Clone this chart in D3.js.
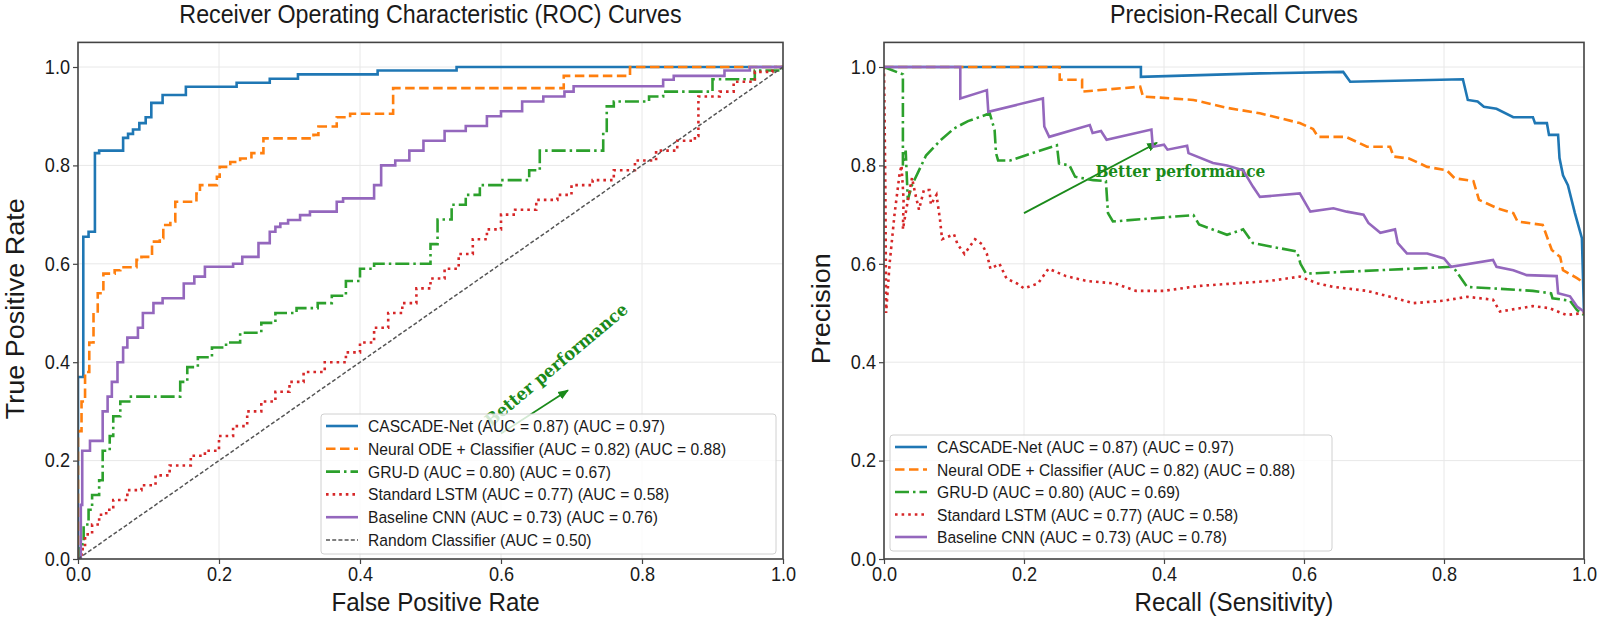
<!DOCTYPE html>
<html>
<head>
<meta charset="utf-8">
<script src="https://cdn.jsdelivr.net/npm/d3@7/dist/d3.min.js"></script>
<style>
body { margin: 0; background: #fff; }
text { font-family: "Liberation Sans", Arial, sans-serif; fill: #1a1a1a; }
</style>
</head>
<body>
<script>
var width = 1600,
    height = 619

// ---- data ----
var ticks = [0, 0.2, 0.4, 0.6, 0.8, 1.0]

var rocLabels = [
  "CASCADE-Net (AUC = 0.87) (AUC = 0.97)",
  "Neural ODE + Classifier (AUC = 0.82) (AUC = 0.88)",
  "GRU-D (AUC = 0.80) (AUC = 0.67)",
  "Standard LSTM (AUC = 0.77) (AUC = 0.58)",
  "Baseline CNN (AUC = 0.73) (AUC = 0.76)",
  "Random Classifier (AUC = 0.50)"
]
var prLabels = [
  "CASCADE-Net (AUC = 0.87) (AUC = 0.97)",
  "Neural ODE + Classifier (AUC = 0.82) (AUC = 0.88)",
  "GRU-D (AUC = 0.80) (AUC = 0.69)",
  "Standard LSTM (AUC = 0.77) (AUC = 0.58)",
  "Baseline CNN (AUC = 0.73) (AUC = 0.78)"
]

// ROC: [fpr, tpr after the step]
var rocCascade = [[0,0],[0,0.37],[0.0075,0.655],[0.015,0.665],[0.024,0.825],[0.03,0.83],[0.064,0.856],[0.071,0.864],[0.078,0.873],[0.087,0.886],[0.096,0.898],[0.104,0.927],[0.12,0.943],[0.153,0.96],[0.225,0.968],[0.272,0.976],[0.312,0.985],[0.425,0.993],[0.537,1.0],[1,1]]
var rocNeuralOde = [[0,0],[0,0.26],[0.005,0.32],[0.01,0.38],[0.016,0.44],[0.022,0.50],[0.028,0.54],[0.036,0.58],[0.052,0.587],[0.06,0.593],[0.083,0.608],[0.09,0.614],[0.105,0.645],[0.116,0.652],[0.121,0.679],[0.131,0.686],[0.138,0.726],[0.168,0.743],[0.173,0.76],[0.197,0.777],[0.201,0.797],[0.216,0.807],[0.23,0.814],[0.246,0.825],[0.263,0.855],[0.334,0.862],[0.341,0.879],[0.367,0.898],[0.386,0.905],[0.447,0.957],[0.689,0.982],[0.783,1.0],[1,1]]
var rocGruD = [[0,0],[0.003,0.03],[0.008,0.07],[0.015,0.10],[0.02,0.13],[0.03,0.16],[0.035,0.22],[0.045,0.25],[0.05,0.29],[0.06,0.32],[0.075,0.33],[0.145,0.36],[0.155,0.39],[0.17,0.41],[0.19,0.43],[0.21,0.44],[0.23,0.46],[0.26,0.48],[0.28,0.50],[0.31,0.51],[0.34,0.52],[0.36,0.535],[0.38,0.565],[0.40,0.59],[0.42,0.60],[0.50,0.64],[0.51,0.69],[0.53,0.72],[0.55,0.74],[0.57,0.76],[0.60,0.77],[0.64,0.79],[0.655,0.83],[0.745,0.87],[0.75,0.92],[0.76,0.93],[0.81,0.94],[0.83,0.95],[0.90,0.975],[0.96,0.993],[1,1]]
var rocLstm = [[0,0],[0.005,0.02],[0.01,0.05],[0.02,0.07],[0.03,0.09],[0.04,0.10],[0.05,0.12],[0.07,0.14],[0.09,0.15],[0.11,0.17],[0.13,0.19],[0.16,0.21],[0.18,0.22],[0.2,0.25],[0.22,0.27],[0.24,0.30],[0.26,0.32],[0.28,0.34],[0.30,0.36],[0.32,0.38],[0.35,0.40],[0.38,0.42],[0.40,0.44],[0.42,0.47],[0.44,0.50],[0.46,0.52],[0.48,0.55],[0.50,0.57],[0.52,0.59],[0.54,0.62],[0.56,0.65],[0.58,0.67],[0.60,0.70],[0.62,0.71],[0.65,0.73],[0.68,0.74],[0.70,0.76],[0.73,0.77],[0.76,0.79],[0.79,0.81],[0.82,0.83],[0.85,0.85],[0.875,0.86],[0.88,0.94],[0.91,0.95],[0.93,0.97],[0.96,0.99],[0.985,1.0],[1,1]]
var rocCnn = [[0,0],[0.004,0.11],[0.006,0.22],[0.017,0.24],[0.035,0.30],[0.042,0.33],[0.048,0.36],[0.056,0.40],[0.064,0.43],[0.07,0.45],[0.085,0.47],[0.092,0.50],[0.107,0.52],[0.12,0.53],[0.15,0.56],[0.165,0.574],[0.18,0.594],[0.22,0.60],[0.233,0.614],[0.256,0.642],[0.272,0.665],[0.28,0.675],[0.287,0.682],[0.298,0.689],[0.315,0.699],[0.329,0.706],[0.367,0.726],[0.376,0.733],[0.42,0.76],[0.43,0.80],[0.45,0.81],[0.47,0.83],[0.49,0.85],[0.52,0.87],[0.55,0.88],[0.58,0.90],[0.60,0.91],[0.63,0.93],[0.66,0.94],[0.69,0.95],[0.703,0.961],[0.83,0.974],[0.845,0.982],[0.917,0.993],[0.953,1.0],[1,1]]
var rocRandom = [[0,0],[1,1]]

// PR: [recall, precision]
var prCascade = [[0,1],[0.367,1.0],[0.367,0.98],[0.537,0.987],[0.656,0.99],[0.666,0.97],[0.827,0.975],[0.834,0.933],[0.848,0.93],[0.857,0.919],[0.875,0.915],[0.899,0.898],[0.927,0.898],[0.93,0.886],[0.947,0.886],[0.95,0.862],[0.963,0.862],[0.965,0.815],[0.97,0.78],[0.977,0.76],[0.987,0.703],[0.997,0.652],[1.0,0.5]]
var prNeuralOde = [[0,1],[0.251,1.0],[0.251,0.974],[0.283,0.974],[0.283,0.95],[0.366,0.96],[0.37,0.94],[0.442,0.933],[0.49,0.917],[0.537,0.906],[0.594,0.886],[0.613,0.874],[0.62,0.858],[0.66,0.858],[0.69,0.838],[0.723,0.838],[0.728,0.818],[0.75,0.814],[0.776,0.797],[0.804,0.79],[0.815,0.774],[0.842,0.768],[0.85,0.73],[0.876,0.713],[0.899,0.703],[0.905,0.686],[0.941,0.679],[0.954,0.628],[0.966,0.614],[0.97,0.587],[0.99,0.571],[1.0,0.561]]
var prGruD = [[0,1],[0.027,0.985],[0.027,0.80],[0.031,0.83],[0.034,0.73],[0.04,0.76],[0.05,0.79],[0.06,0.82],[0.08,0.85],[0.10,0.875],[0.12,0.89],[0.14,0.90],[0.151,0.906],[0.158,0.872],[0.16,0.825],[0.163,0.81],[0.18,0.81],[0.247,0.841],[0.25,0.804],[0.265,0.80],[0.273,0.777],[0.299,0.77],[0.317,0.768],[0.32,0.703],[0.327,0.686],[0.442,0.699],[0.45,0.68],[0.49,0.659],[0.513,0.67],[0.527,0.642],[0.59,0.625],[0.595,0.60],[0.603,0.58],[0.813,0.594],[0.833,0.553],[0.87,0.55],[0.927,0.545],[0.953,0.54],[0.955,0.53],[0.98,0.525],[0.99,0.506],[1.0,0.496]]
var prLstm = [[0,1.0],[0.002,0.75],[0.003,0.50],[0.008,0.60],[0.015,0.70],[0.022,0.78],[0.025,0.80],[0.028,0.73],[0.027,0.67],[0.033,0.72],[0.04,0.775],[0.045,0.74],[0.05,0.71],[0.057,0.75],[0.065,0.75],[0.067,0.72],[0.075,0.74],[0.08,0.69],[0.083,0.65],[0.1,0.66],[0.105,0.64],[0.115,0.62],[0.13,0.65],[0.14,0.64],[0.147,0.62],[0.152,0.59],[0.165,0.60],[0.175,0.57],[0.19,0.56],[0.20,0.55],[0.22,0.56],[0.235,0.59],[0.26,0.575],[0.29,0.565],[0.33,0.56],[0.36,0.545],[0.40,0.545],[0.45,0.555],[0.50,0.56],[0.55,0.565],[0.594,0.574],[0.62,0.56],[0.642,0.553],[0.69,0.545],[0.723,0.533],[0.756,0.52],[0.80,0.525],[0.833,0.533],[0.87,0.527],[0.88,0.503],[0.927,0.514],[0.95,0.51],[0.975,0.496],[1.0,0.50]]
var prCnn = [[0,1],[0.109,1.0],[0.109,0.936],[0.147,0.953],[0.149,0.909],[0.227,0.936],[0.229,0.879],[0.236,0.858],[0.294,0.882],[0.298,0.866],[0.31,0.87],[0.318,0.852],[0.382,0.873],[0.384,0.838],[0.4,0.842],[0.405,0.832],[0.433,0.84],[0.435,0.825],[0.47,0.805],[0.49,0.80],[0.513,0.79],[0.527,0.757],[0.537,0.736],[0.594,0.743],[0.609,0.706],[0.642,0.713],[0.661,0.706],[0.685,0.70],[0.692,0.683],[0.709,0.663],[0.73,0.67],[0.734,0.642],[0.747,0.621],[0.776,0.621],[0.80,0.611],[0.81,0.594],[0.87,0.608],[0.875,0.594],[0.899,0.587],[0.918,0.577],[0.961,0.575],[0.963,0.54],[0.98,0.534],[0.99,0.513],[1.0,0.503]]

// ---- styles ----
var styles = [
  {color: "#1f77b4", dash: null, w: 2.6},
  {color: "#ff7f0e", dash: "9.5,4.5", w: 2.6},
  {color: "#2ca02c", dash: "14,4,2.5,4", w: 2.6},
  {color: "#d62728", dash: "2.6,4", w: 2.6},
  {color: "#9467bd", dash: null, w: 2.6},
  {color: "#555555", dash: "4,2.2", w: 1.5}
]
var squish = 0.93   // text in the picture is a little taller than wide

var svg = d3.select("body").append("svg")
    .attr("width", width)
    .attr("height", height)

var defs = svg.append("defs")
defs.append("marker")
    .attr("id", "head")
    .attr("viewBox", "0 0 10 10")
    .attr("refX", 9).attr("refY", 5)
    .attr("markerWidth", 6).attr("markerHeight", 6)
    .attr("markerUnits", "strokeWidth")
    .attr("orient", "auto")
  .append("path")
    .attr("d", "M0,1 L10,5 L0,9 Z")
    .attr("fill", "#1a8a1a")

var yBottom = 559, yUnit = 492

function hText(parent, x, y, size, anchor, str) {
  return parent.append("text")
      .attr("transform", "translate(" + x + "," + y + ") scale(" + squish + ",1)")
      .attr("text-anchor", anchor)
      .attr("font-size", size)
      .text(str)
}

function panel(o) {
  var x = d3.scaleLinear().domain([0, 1]).range([o.left, o.right])
  var y = d3.scaleLinear().domain([0, 1]).range([yBottom, yBottom - yUnit])
  var top = y(1.05)
  var g = svg.append("g")

  // grid
  g.selectAll(".gx").data(ticks).enter().append("line")
      .attr("x1", d => x(d)).attr("x2", d => x(d))
      .attr("y1", top).attr("y2", yBottom)
      .attr("stroke", "#e8e8e8").attr("stroke-width", 1)
  g.selectAll(".gy").data(ticks).enter().append("line")
      .attr("x1", o.left).attr("x2", o.right)
      .attr("y1", d => y(d)).attr("y2", d => y(d))
      .attr("stroke", "#e8e8e8").attr("stroke-width", 1)

  defs.append("clipPath").attr("id", "clip" + o.id)
    .append("rect").attr("x", o.left).attr("y", top)
    .attr("width", o.right - o.left).attr("height", yBottom - top)

  var plot = g.append("g").attr("clip-path", "url(#clip" + o.id + ")")

  var line = d3.line().x(d => x(d[0])).y(d => y(d[1])).curve(o.curve)
  var straight = d3.line().x(d => x(d[0])).y(d => y(d[1]))

  // annotation sits under the legend
  o.annot(plot, x, y)

  o.series.forEach(function(s, i) {
    var st = styles[i]
    plot.append("path")
        .attr("d", i === 5 ? straight(s) : line(s))
        .attr("fill", "none")
        .attr("stroke", st.color)
        .attr("stroke-width", st.w)
        .attr("stroke-dasharray", st.dash)
  })

  // axes
  var ax = g.append("g").attr("transform", "translate(0," + yBottom + ")")
      .call(d3.axisBottom(x).tickValues(ticks).tickFormat(d3.format(".1f")).tickSize(5).tickPadding(3))
  var ay = g.append("g").attr("transform", "translate(" + o.left + ",0)")
      .call(d3.axisLeft(y).tickValues(ticks).tickFormat(d3.format(".1f")).tickSize(5).tickPadding(3))
  ;[ax, ay].forEach(function(a) {
    a.select(".domain").remove()
    a.selectAll(".tick line").attr("stroke", "#444").attr("stroke-width", 1.2)
    a.selectAll(".tick text").attr("font-size", 19.5)
  })
  ax.selectAll(".tick text").attr("transform", "scale(" + squish + ",1)")
  ay.selectAll(".tick text").attr("transform", "translate(-8,0) scale(" + squish + ",1)").attr("x", 0)

  // frame
  g.append("rect")
      .attr("x", o.left).attr("y", top)
      .attr("width", o.right - o.left).attr("height", yBottom - top)
      .attr("fill", "none").attr("stroke", "#444").attr("stroke-width", 1.6)

  // titles
  hText(g, (o.left + o.right) / 2, 23, 25, "middle", o.title)
  hText(g, (o.left + o.right) / 2 + o.xlabOff, 611, 26, "middle", o.xlabel)
  g.append("text")
      .attr("transform", "translate(" + (o.left - 54) + "," + ((top + yBottom) / 2 + 8) + ") rotate(-90) scale(1," + squish + ")")
      .attr("text-anchor", "middle").attr("font-size", 27)
      .text(o.ylabel)

  // legend
  var lg = g.append("g")
  var rowH = o.rowH, n = o.labels.length
  lg.append("rect")
      .attr("x", o.legLeft).attr("y", o.legTop)
      .attr("width", o.legWidth)
      .attr("height", 12 + (n - 1) * rowH + 14)
      .attr("rx", 3)
      .attr("fill", "#fff").attr("fill-opacity", 0.8)
      .attr("stroke", "#d0d0d0").attr("stroke-width", 1)
  o.labels.forEach(function(lab, i) {
    var cy = o.legTop + 12 + i * rowH
    var st = styles[i]
    lg.append("line")
        .attr("x1", o.legLeft + 5).attr("x2", o.legLeft + 37)
        .attr("y1", cy).attr("y2", cy)
        .attr("stroke", st.color).attr("stroke-width", st.w)
        .attr("stroke-dasharray", st.dash)
    hText(lg, o.legLeft + 47, cy + 6, 16.8, "start", lab)
  })
}

function annotText(p, x, y, rot, size) {
  return p.append("text")
      .attr("transform", "translate(" + x + "," + y + ") rotate(" + rot + ") scale(" + squish + ",1)")
      .style("font-family", "'DejaVu Serif', serif").style("font-weight", "bold")
      .style("font-size", size + "px").style("fill", "#1a8a1a")
      .text("Better performance")
}

panel({
  id: "roc", left: 78, right: 783, xlabOff: 5,
  title: "Receiver Operating Characteristic (ROC) Curves",
  xlabel: "False Positive Rate", ylabel: "True Positive Rate",
  curve: d3.curveStepAfter,
  series: [rocCascade, rocNeuralOde, rocGruD, rocLstm, rocCnn, rocRandom],
  labels: rocLabels, rowH: 22.8, legLeft: 321, legTop: 414, legWidth: 455,
  annot: function(p, x, y) {
    p.append("line")
        .attr("x1", x(0.6)).attr("y1", y(0.255))
        .attr("x2", x(0.695)).attr("y2", y(0.343))
        .attr("stroke", "#1a8a1a").attr("stroke-width", 1.8)
        .attr("marker-end", "url(#head)")
    annotText(p, x(0.586), y(0.268), -40, 17.5)
  }
})

panel({
  id: "pr", left: 884, right: 1584, xlabOff: 0,
  title: "Precision-Recall Curves",
  xlabel: "Recall (Sensitivity)", ylabel: "Precision",
  curve: d3.curveLinear,
  series: [prCascade, prNeuralOde, prGruD, prLstm, prCnn],
  labels: prLabels, rowH: 22.5, legLeft: 890, legTop: 435, legWidth: 442,
  annot: function(p, x, y) {
    p.append("line")
        .attr("x1", x(0.2)).attr("y1", y(0.703))
        .attr("x2", x(0.39)).attr("y2", y(0.846))
        .attr("stroke", "#1a8a1a").attr("stroke-width", 1.8)
        .attr("marker-end", "url(#head)")
    annotText(p, x(0.302), y(0.776), 0, 16.5)
  }
})
</script>
</body>
</html>
